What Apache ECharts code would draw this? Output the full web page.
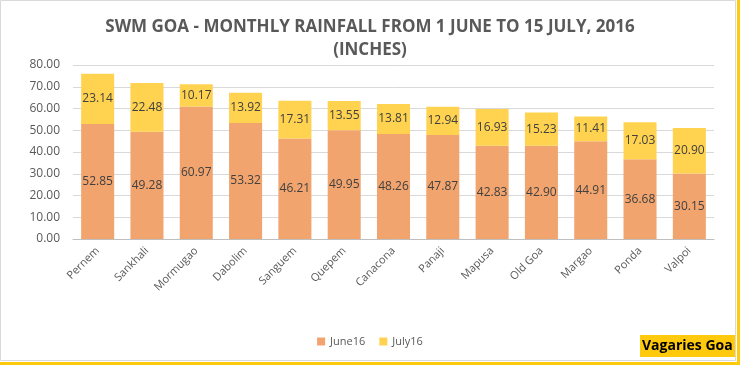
<!DOCTYPE html>
<html><head><meta charset="utf-8">
<script src="https://cdn.jsdelivr.net/npm/echarts@6/dist/echarts.min.js"></script>
<style>html,body{margin:0;padding:0;background:#fff}#c{width:740px;height:365px}</style>
</head><body><div id="c"></div>
<script>
const categories = ['Pernem','Sankhali','Mormugao','Dabolim','Sanguem','Quepem','Canacona','Panaji','Mapusa','Old Goa','Margao','Ponda','Valpoi'];
const june16 = [52.85,49.28,60.97,53.32,46.21,49.95,48.26,47.87,42.83,42.90,44.91,36.68,30.15];
const july16 = [23.14,22.48,10.17,13.92,17.31,13.55,13.81,12.94,16.93,15.23,11.41,17.03,20.90];
const yTicks = [0,10,20,30,40,50,60,70,80];

const font = "'Open Sans', sans-serif";
const chart = echarts.init(document.getElementById('c'));
const lbl = {show:true, position:'inside', color:'#404040', fontSize:12, fontFamily:font, formatter:p=>p.value.toFixed(2)};
chart.setOption({
  animation:false,
  title:{text:'SWM GOA - MONTHLY RAINFALL FROM 1 JUNE TO 15 JULY, 2016\n(INCHES)', left:'center', top:11,
    textStyle:{fontSize:17, fontWeight:'bold', color:'#595959', fontFamily:font, lineHeight:23}},
  legend:{bottom:13, left:'center', itemWidth:8, itemHeight:8, itemGap:14, icon:'rect',
    textStyle:{color:'#595959', fontSize:11, fontFamily:font}},
  grid:{left:73, right:26, top:65, bottom:126},
  xAxis:{type:'category', data:categories,
    axisLine:{lineStyle:{color:'#BFBFBF'}}, axisTick:{show:false},
    axisLabel:{rotate:45, color:'#595959', fontSize:11, fontFamily:font, margin:10, interval:0}},
  yAxis:{type:'value', min:yTicks[0], max:yTicks[yTicks.length-1], interval:10,
    axisLine:{show:false}, axisTick:{show:false},
    splitLine:{lineStyle:{color:'#D9D9D9'}},
    axisLabel:{color:'#595959', fontSize:12, fontFamily:font, margin:13, formatter:v=>v.toFixed(2)}},
  series:[
    {name:'June16', type:'bar', stack:'a', data:june16, barCategoryGap:'33%', itemStyle:{color:'#F2A46E'}, label:lbl},
    {name:'July16', type:'bar', stack:'a', data:july16, itemStyle:{color:'#FFD34F'}, label:lbl}
  ],
  graphic:[
    {type:'rect', shape:{x:0.5,y:0.5,width:735,height:360}, style:{fill:'none', stroke:'#D9D9D9', lineWidth:1}},
    {type:'rect', shape:{x:737,y:0,width:3,height:365}, style:{fill:'#FFC90E'}},
    {type:'rect', shape:{x:0,y:362,width:740,height:3}, style:{fill:'#FFC90E'}},
    {type:'rect', shape:{x:640,y:335,width:95,height:22}, style:{fill:'#FFC90E'}},
    {type:'text', x:642, y:346, style:{text:'Vagaries Goa', fill:'#000', fontSize:14, fontWeight:'bold', fontFamily:font, verticalAlign:'middle'}}
  ]
});
</script></body></html>
